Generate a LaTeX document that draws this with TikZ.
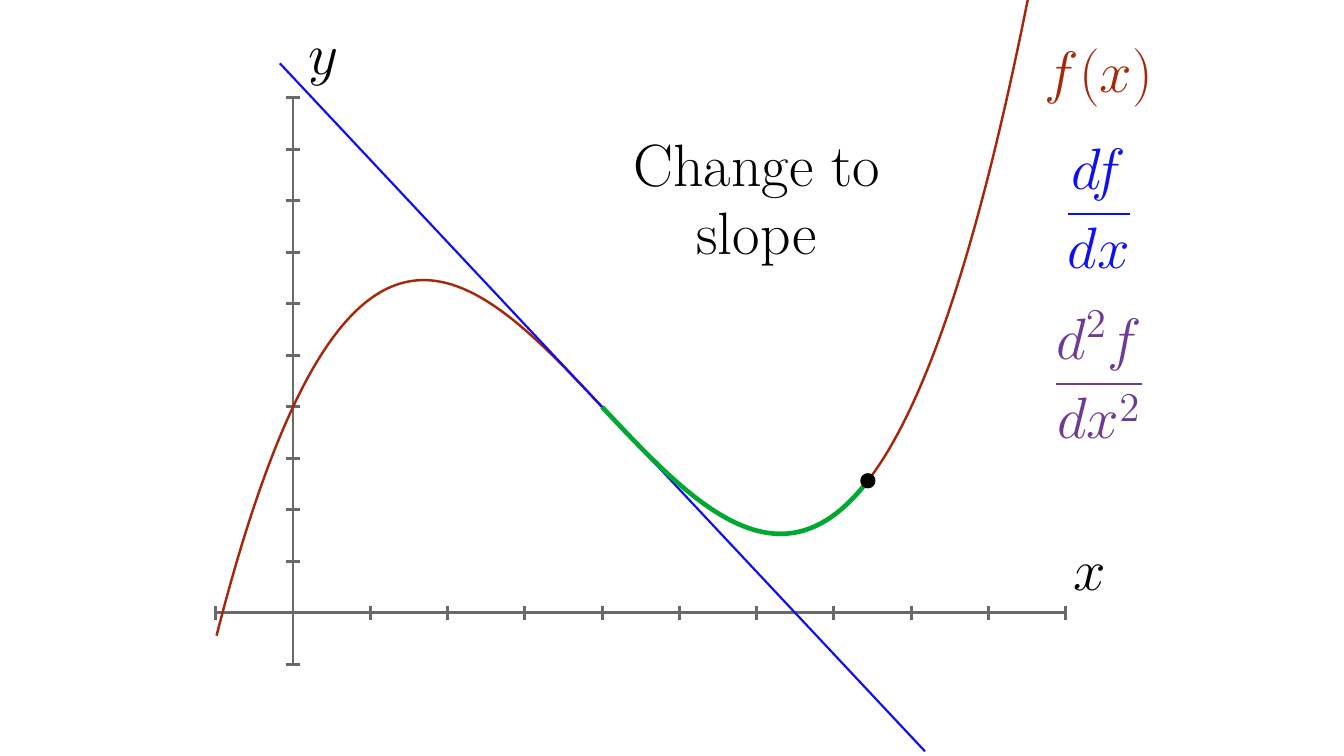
\RequirePackage{fix-cm}
\documentclass[tikz,border=0pt]{standalone}
\usepackage{amsmath}
\usepackage{tikz}
\usetikzlibrary{positioning}

\definecolor{curvered}{RGB}{165,40,12}
\definecolor{tanblue}{RGB}{15,15,245}
\definecolor{bendgreen}{RGB}{0,168,50}
\definecolor{secpurple}{RGB}{110,58,150}
\definecolor{axisgray}{RGB}{105,105,105}

\tikzset{
  axisline/.style={axisgray, line width=1.1pt},
  tickmark/.style={axisgray, line width=1.1pt},
  bigtext/.style={font=\fontsize{22}{25}\selectfont, align=center},
  mathlabel/.style={font=\fontsize{21.5}{25}\selectfont}
}

\begin{document}
\begin{tikzpicture}[x=1cm, y=0.6665cm,
  declare function={f(\x)=0.1*(\x-4)^3-1.6*(\x-4)+4;}]
\useasboundingbox (-3.792cm,-1.851cm) rectangle (13.602cm,7.933cm);

% axes
\draw[axisline] (-1,0) -- (10,0);
\draw[axisline] (0,-1) -- (0,10);
\foreach \t in {-1,1,2,...,10} {
  \draw[tickmark] (\t,0) ++(0,-0.09cm) -- ++(0,0.18cm);
  \draw[tickmark] (0,\t) ++(-0.09cm,0) -- ++(0.18cm,0);
}
\node (ylabel) at (0.39,10.58) [mathlabel] {$y$};
\node (xlabel) at (10.31,0.68) [mathlabel] {$x$};

% the function
\begin{scope}
\clip (-3.792cm,-1.851cm) rectangle (13.602cm,7.933cm);
\draw[curvered, line width=0.9pt, domain=-0.99:9.6, samples=120, smooth]
  plot (\x,{f(\x)});
\end{scope}

% tangent at the inflection point
\coordinate (tanstart) at (-0.17,{4+1.6*4.17});
\coordinate (tanend) at (8.18,{4-1.6*4.18});
\draw[tanblue, line width=0.8pt] (tanstart) -- (tanend);

% bend between inflection and the point
\draw[bendgreen, line width=1.7pt, domain=4:7.44, samples=60, smooth]
  plot (\x,{f(\x)});
\coordinate (point) at (7.44,{f(7.44)});
\fill[black] (point) circle (2.8pt);

\node (note) at (6.0,7.92) [bigtext] {Change to\\slope};

\node (fx) at (10.43,10.39) [mathlabel, text=curvered] {$f(x)$};
\node (dfdx) at (10.43,7.85) [mathlabel, text=tanblue] {$\dfrac{df}{dx}$};
\node (dtwo) at (10.43,4.62) [mathlabel, text=secpurple] {$\dfrac{d^2f}{dx^2}$};
\end{tikzpicture}
\end{document}
